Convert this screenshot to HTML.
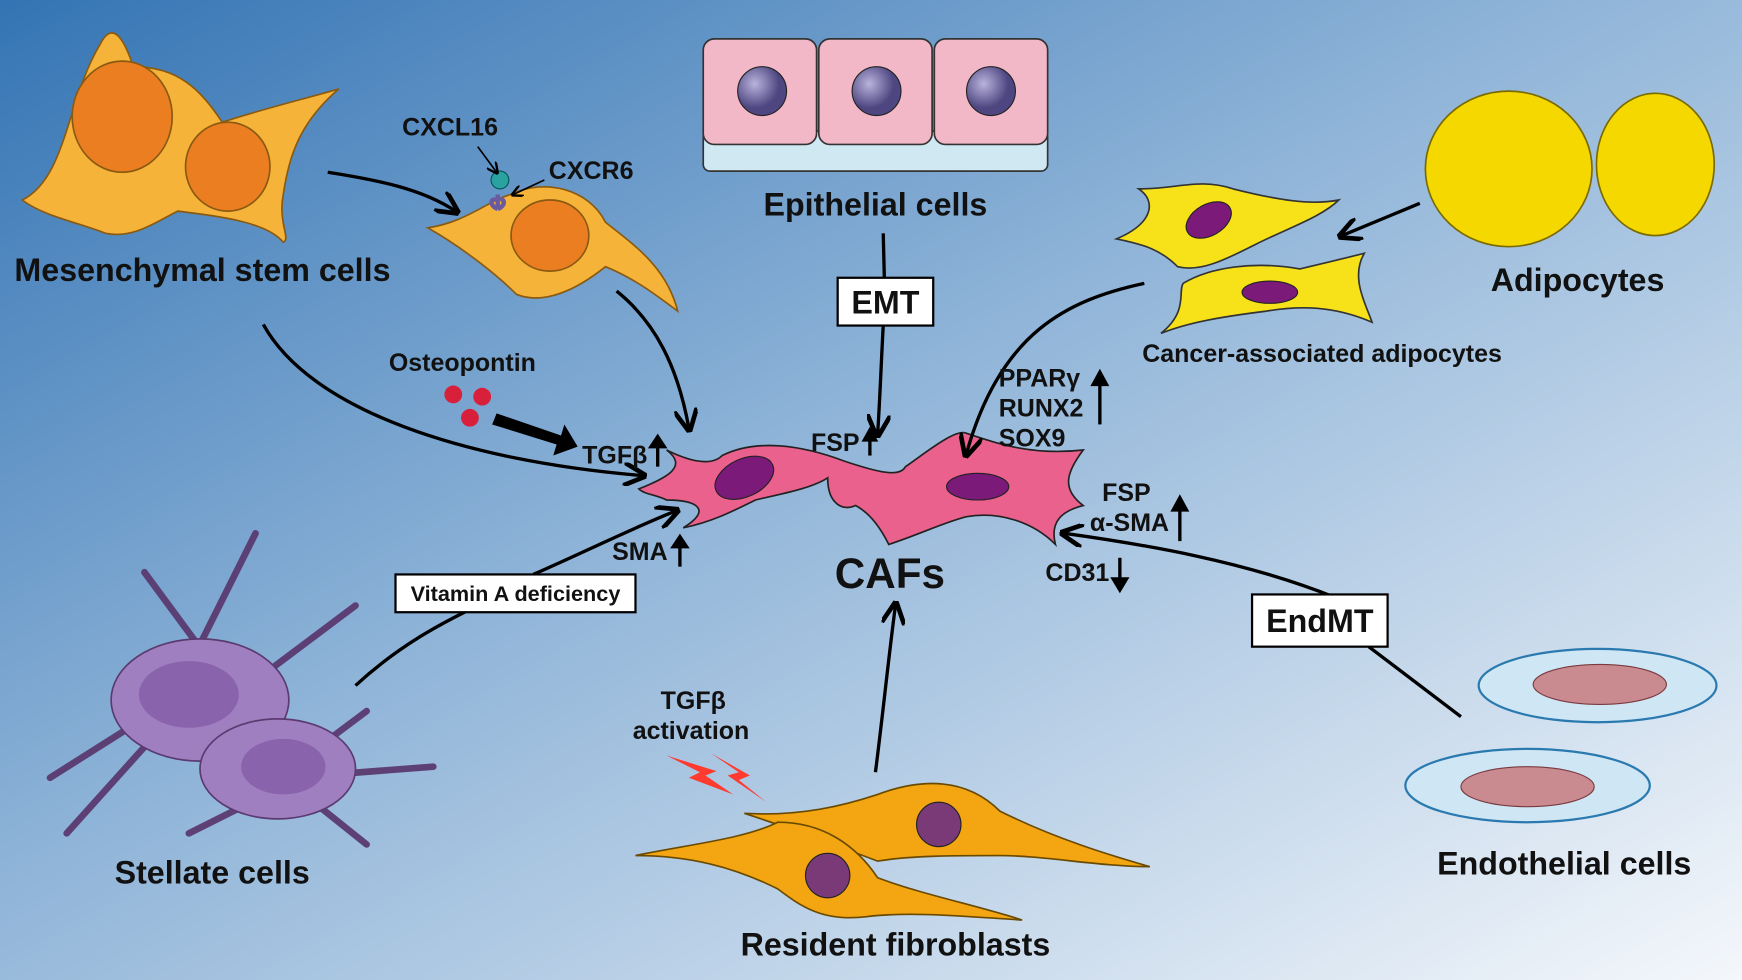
<!DOCTYPE html>
<html><head><meta charset="utf-8"><style>
html,body{margin:0;padding:0;width:1742px;height:980px;overflow:hidden}
svg{display:block}
text{font-family:"Liberation Sans",Arial,sans-serif;font-weight:bold;fill:#111}
</style></head><body>
<svg width="1742" height="980" viewBox="0 0 1568 882" preserveAspectRatio="none">
<defs>
<linearGradient id="bg" x1="0" y1="0" x2="1" y2="1">
<stop offset="0" stop-color="#3474b4"/><stop offset="0.45" stop-color="#8fb4d8"/><stop offset="1" stop-color="#f4f7fb"/></linearGradient>
<marker id="ah" viewBox="0 0 10 10" refX="8" refY="5" markerWidth="7" markerHeight="7" orient="auto"><path d="M0,0 L10,5 L0,10" fill="none" stroke="#000" stroke-width="2"/></marker>
<radialGradient id="nuc" cx="0.35" cy="0.35"><stop offset="0" stop-color="#b9b3dd"/><stop offset="1" stop-color="#4e4680"/></radialGradient>
</defs>
<rect width="1568" height="882" fill="url(#bg)"/>

<g stroke="#8a5a10" stroke-width="1.5">
<path d="M20,180 C60,160 60,90 90,40 C100,20 110,30 120,60 C160,60 180,80 200,110 C230,100 270,90 305,80 C270,110 260,140 255,175 C250,200 262,215 255,218 C240,200 200,195 160,190 C140,200 120,215 95,210 C70,200 40,195 20,180Z" fill="#f6b33a"/>
<ellipse cx="110" cy="105" rx="45" ry="50" fill="#ec7e22"/>
<ellipse cx="205" cy="150" rx="38" ry="40" fill="#ec7e22"/>
<path d="M385,205 C420,200 440,180 460,175 C490,160 530,170 545,200 C570,220 600,240 610,280 C590,265 570,250 545,240 C520,260 490,275 465,265 C450,250 420,225 385,205Z" fill="#f6b33a"/>
<ellipse cx="495" cy="212" rx="35" ry="32" fill="#ec7e22"/>
</g>
<path d="M448,175 L448,188 M448,188 C440,185 442,178 446,180 M448,188 C456,185 454,178 450,180" stroke="#6a5aa0" stroke-width="4" fill="none"/>
<circle cx="450" cy="162" r="8" fill="#2aa3a0" stroke="#055" />

<rect x="633" y="118" width="310" height="36" rx="6" fill="#cfe8f2" stroke="#333" stroke-width="1.5"/>
<g stroke="#333" stroke-width="1.5" fill="#f3b8c8">
<rect x="633" y="35" width="102" height="95" rx="10"/><rect x="737" y="35" width="102" height="95" rx="10"/><rect x="841" y="35" width="102" height="95" rx="10"/></g>
<circle cx="686" cy="82" r="22" fill="url(#nuc)" stroke="#222"/>
<circle cx="789" cy="82" r="22" fill="url(#nuc)" stroke="#222"/>
<circle cx="892" cy="82" r="22" fill="url(#nuc)" stroke="#222"/>

<ellipse cx="1358" cy="152" rx="75" ry="70" fill="#f5d800" stroke="#7a6a00" stroke-width="1.5"/>
<ellipse cx="1490" cy="148" rx="53" ry="64" fill="#f5d800" stroke="#7a6a00" stroke-width="1.5"/>
<g stroke="#333" stroke-width="1.5" fill="#f7e21a">
<path d="M1005,215 C1040,200 1040,180 1025,170 C1060,170 1080,160 1110,170 C1150,180 1180,185 1205,180 C1190,195 1160,205 1130,220 C1100,235 1080,245 1060,240 C1045,225 1030,220 1005,215Z"/>
<path d="M1045,300 C1070,280 1060,262 1065,255 C1090,240 1130,235 1170,242 C1200,235 1220,230 1228,228 C1215,250 1230,275 1235,290 C1200,275 1170,275 1140,280 C1100,285 1070,290 1045,300Z"/>
</g>
<ellipse cx="1088" cy="198" rx="22" ry="14" transform="rotate(-30 1088 198)" fill="#7b1a78" stroke="#222"/>
<ellipse cx="1143" cy="263" rx="25" ry="10" fill="#7b1a78" stroke="#222"/>

<g stroke="#222" stroke-width="1.5" fill="#e9618c">
<path d="M600,405 C620,415 640,420 650,410 C680,395 720,400 760,415 C790,425 810,430 815,420 C830,410 860,385 870,390 C900,400 930,410 975,405 C960,425 955,440 975,455 C955,460 945,470 950,490 C930,470 900,460 870,465 C850,470 830,480 800,490 C790,470 780,460 770,455 C760,460 745,455 745,430 C730,440 700,445 680,450 C660,460 640,470 615,475 C640,460 630,450 600,450 C590,445 580,445 575,440 C600,430 620,420 600,405Z"/>
</g>
<ellipse cx="670" cy="430" rx="28" ry="17" transform="rotate(-25 670 430)" fill="#7b1a78" stroke="#222"/>
<ellipse cx="880" cy="438" rx="28" ry="12" fill="#7b1a78" stroke="#222"/>

<g stroke="#5a3a70" stroke-width="6" fill="none" stroke-linecap="round" opacity="0.95">
<path d="M200,610 L130,515 M170,600 L230,480 M220,620 L320,545 M140,640 L45,700 M150,650 L60,750 M260,700 L390,690 M250,700 L330,640 M230,720 L170,750 M280,720 L330,760"/>
</g>
<g stroke="#5a3a70" stroke-width="1.5" fill="#a07fc0">
<ellipse cx="180" cy="630" rx="80" ry="55"/>
<ellipse cx="250" cy="692" rx="70" ry="45"/>
</g>
<ellipse cx="170" cy="625" rx="45" ry="30" fill="#8a63ad"/>
<ellipse cx="255" cy="690" rx="38" ry="25" fill="#8a63ad"/>

<g stroke="#6a4a00" stroke-width="1.5" fill="#f3a612">
<path d="M670,732 C720,735 760,725 790,715 C830,700 870,700 900,730 C950,755 1000,770 1035,780 C990,780 940,770 900,770 C860,770 820,770 790,775 C750,760 710,745 670,732Z"/>
<path d="M572,770 C620,760 670,755 700,740 C740,740 770,760 790,790 C830,805 880,815 920,828 C870,825 820,820 780,825 C740,830 720,815 700,800 C660,780 620,770 572,770Z"/>
</g>
<circle cx="845" cy="742" r="20" fill="#7a3a78" stroke="#222"/>
<circle cx="745" cy="788" r="20" fill="#7a3a78" stroke="#222"/>
<path d="M600,680 L630,695 L620,700 L660,715 L635,698 L645,694Z M640,678 L665,695 L655,698 L690,722 L665,702 L675,698Z" fill="#ff3b30"/>

<ellipse cx="1438" cy="617" rx="107" ry="33" fill="#cfe6f5" stroke="#2a7ab0" stroke-width="2"/>
<ellipse cx="1440" cy="616" rx="60" ry="18" fill="#c98a90" stroke="#7a3a40"/>
<ellipse cx="1375" cy="707" rx="110" ry="33" fill="#cfe6f5" stroke="#2a7ab0" stroke-width="2"/>
<ellipse cx="1375" cy="708" rx="60" ry="18" fill="#c98a90" stroke="#7a3a40"/>

<circle cx="408" cy="355" r="8" fill="#d8203a"/><circle cx="434" cy="357" r="8" fill="#d8203a"/><circle cx="423" cy="376" r="8" fill="#d8203a"/>
<path d="M447,372 L505,392 L508,382 L520,402 L498,410 L501,400 L443,382Z" fill="#000"/>

<g stroke="#000" stroke-width="3" fill="none" marker-end="url(#ah)">
<path d="M295,155 C340,162 380,170 410,190"/>
<path d="M555,262 C590,290 610,330 620,385"/>
<path d="M237,292 C280,370 420,415 578,428"/>
<path d="M795,293 C793,330 792,360 790,390"/>
<path d="M1278,183 L1208,212"/>
<path d="M1030,255 C960,270 900,300 870,408"/>
<path d="M320,617 C360,580 400,560 420,550 M480,517 C530,495 570,475 608,460"/>
<path d="M788,695 C795,640 800,590 806,545"/>
<path d="M1200,537 C1120,505 1030,490 958,480"/>
<path d="M430,132 L447,155" stroke-width="1.5"/>
<path d="M490,162 L462,175" stroke-width="1.5"/>
</g>
<path d="M795,210 L796,250 M1315,645 L1232,582" stroke="#000" stroke-width="3"/>

<g stroke="#000" stroke-width="3" fill="#000">
<path d="M592,420 L592,398"/><path d="M586,402 L592,393 L598,402Z"/>
<path d="M612,510 L612,488"/><path d="M606,492 L612,483 L618,492Z"/>
<path d="M783,410 L783,392"/><path d="M778,396 L783,387 L788,396Z"/>
<path d="M990,382 L990,342"/><path d="M984,346 L990,335 L996,346Z"/>
<path d="M1062,487 L1062,455"/><path d="M1056,459 L1062,448 L1068,459Z"/>
<path d="M1008,502 L1008,525"/><path d="M1002,521 L1008,531 L1014,521Z"/>
</g>

<rect x="754" y="250" width="86" height="43" fill="#fff" stroke="#000" stroke-width="2"/>
<rect x="356" y="517" width="216" height="34" fill="#fff" stroke="#000" stroke-width="2"/>
<rect x="1127" y="535" width="122" height="47" fill="#fff" stroke="#000" stroke-width="2"/>

<text x="13" y="253" font-size="29">Mesenchymal stem cells</text>
<text x="362" y="122" font-size="22.5">CXCL16</text>
<text x="494" y="161" font-size="22.5">CXCR6</text>
<text x="788" y="194" font-size="29" text-anchor="middle">Epithelial cells</text>
<text x="797" y="282" font-size="29" text-anchor="middle">EMT</text>
<text x="1420" y="262" font-size="29" text-anchor="middle">Adipocytes</text>
<text x="1190" y="326" font-size="22.5" text-anchor="middle">Cancer-associated adipocytes</text>
<text x="350" y="334" font-size="22.5">Osteopontin</text>
<text x="524" y="417" font-size="22.5">TGFβ</text>
<text x="730" y="406" font-size="22.5">FSP</text>
<text x="899" y="348" font-size="22.5">PPARγ</text>
<text x="899" y="375" font-size="22.5">RUNX2</text>
<text x="899" y="402" font-size="22.5">SOX9</text>
<text x="992" y="451" font-size="22.5">FSP</text>
<text x="981" y="478" font-size="22.5">α-SMA</text>
<text x="941" y="523" font-size="22.5">CD31</text>
<text x="551" y="504" font-size="22.5">SMA</text>
<text x="801" y="529" font-size="38" text-anchor="middle">CAFs</text>
<text x="464" y="541" font-size="19.5" text-anchor="middle">Vitamin A deficiency</text>
<text x="1188" y="569" font-size="29" text-anchor="middle">EndMT</text>
<text x="624" y="638" font-size="22.5" text-anchor="middle">TGFβ</text>
<text x="622" y="665" font-size="22.5" text-anchor="middle">activation</text>
<text x="191" y="795" font-size="29" text-anchor="middle">Stellate cells</text>
<text x="806" y="860" font-size="29" text-anchor="middle">Resident fibroblasts</text>
<text x="1408" y="787" font-size="29" text-anchor="middle">Endothelial cells</text>
</svg>
</body></html>
